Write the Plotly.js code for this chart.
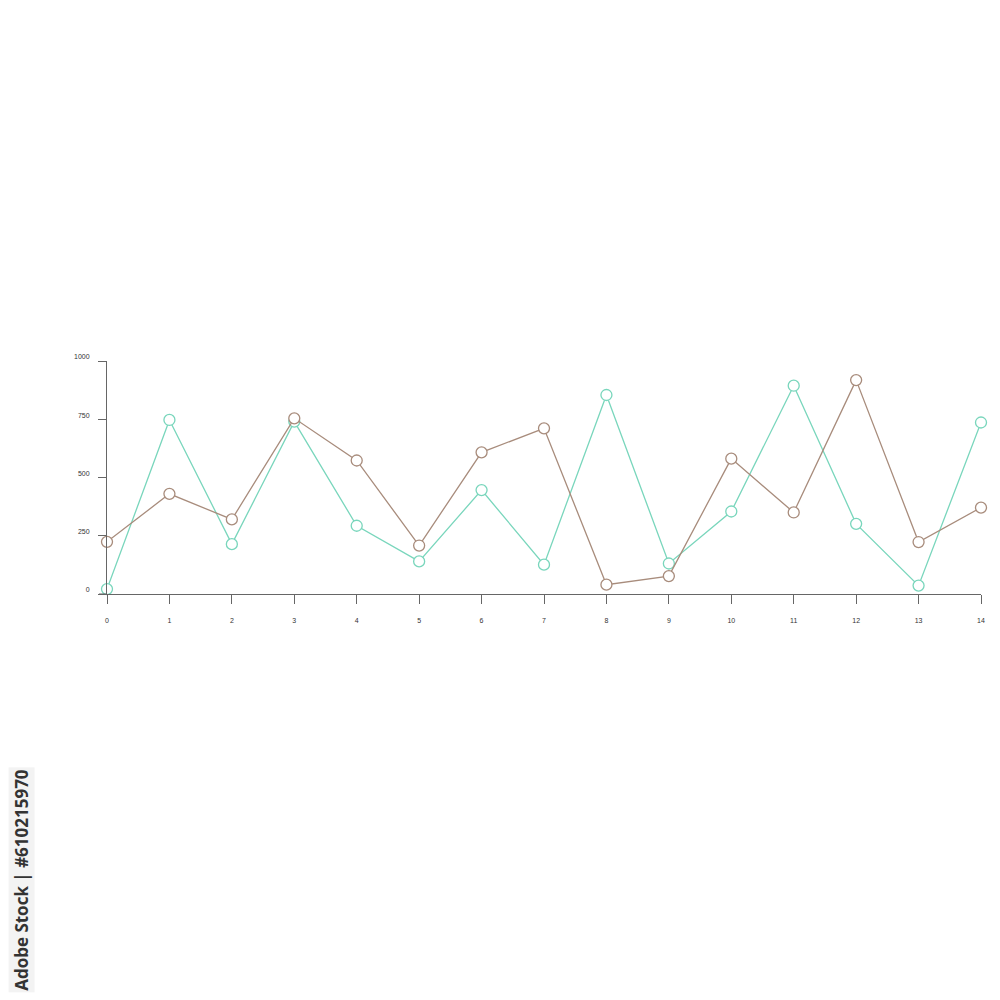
<!DOCTYPE html>
<html>
<head>
<meta charset="utf-8">
<script src="https://cdn.plot.ly/plotly-3.0.1.min.js"></script>
<style>html,body{margin:0;padding:0;background:#fff;}#chart{width:1000px;height:1000px;}</style>
</head>
<body>
<div id="chart"></div>
<script>
const xValues = [0,1,2,3,4,5,6,7,8,9,10,11,12,13,14];
const tealSeries = [21,747,214,740,293,140,446,126,854,131,354,894,301,36,736];
const brownSeries = [224,430,320,754,573,208,608,711,40,77,581,350,918,223,371];
const yTicks = [0,250,500,750,1000];
const xTickLabels = xValues.map(String);

const markerBase = {symbol:'circle', size:11, color:'#ffffff'};
const traces = [
  {x:xValues, y:tealSeries, mode:'lines+markers', name:'A', cliponaxis:false,
   line:{color:'#79d6bc', width:1.3},
   marker:Object.assign({}, markerBase, {line:{color:'#79d6bc', width:1.3}})},
  {x:xValues, y:brownSeries, mode:'lines+markers', name:'B', cliponaxis:false,
   line:{color:'#a88c7c', width:1.3},
   marker:Object.assign({}, markerBase, {line:{color:'#a88c7c', width:1.3}})}
];

const layout = {
  width:1000, height:1000,
  margin:{l:107, r:19, t:361, b:406},
  paper_bgcolor:'#ffffff', plot_bgcolor:'#ffffff',
  showlegend:false,
  font:{family:'Liberation Sans, Arial, sans-serif', size:7, color:'#333333'},
  xaxis:{range:[0,14], tickvals:xValues, ticktext:xTickLabels,
    showgrid:false, zeroline:false, showline:true, linecolor:'#666666', linewidth:1,
    ticks:'outside', ticklen:9, tickcolor:'#666666', tickwidth:1,
    ticklabelstandoff:11, tickfont:{size:7, color:'#333333'}},
  yaxis:{range:[0,1000], tickvals:yTicks,
    showgrid:false, zeroline:false, showline:true, linecolor:'#666666', linewidth:1,
    ticks:'outside', ticklen:8, tickcolor:'#666666', tickwidth:1,
    ticklabelstandoff:7, ticklabelshift:-4, tickfont:{size:7, color:'#333333'}},
  shapes:[{type:'line', xref:'paper', yref:'paper', x0:-0.0092, x1:0, y0:0, y1:0,
    line:{color:'#666666', width:1}}],
  annotations:[{text:'<b>Adobe Stock | #610215970</b>', xref:'paper', yref:'paper', x:-0.0973, y:-1.227,
    xanchor:'center', yanchor:'middle',
    showarrow:false, textangle:-90, bgcolor:'#f3f3f3',
    font:{size:17, color:'#333333', family:'Open Sans, Liberation Sans, sans-serif'}}]
};

Plotly.newPlot('chart', traces, layout, {displayModeBar:false, staticPlot:true});
</script>
</body>
</html>
